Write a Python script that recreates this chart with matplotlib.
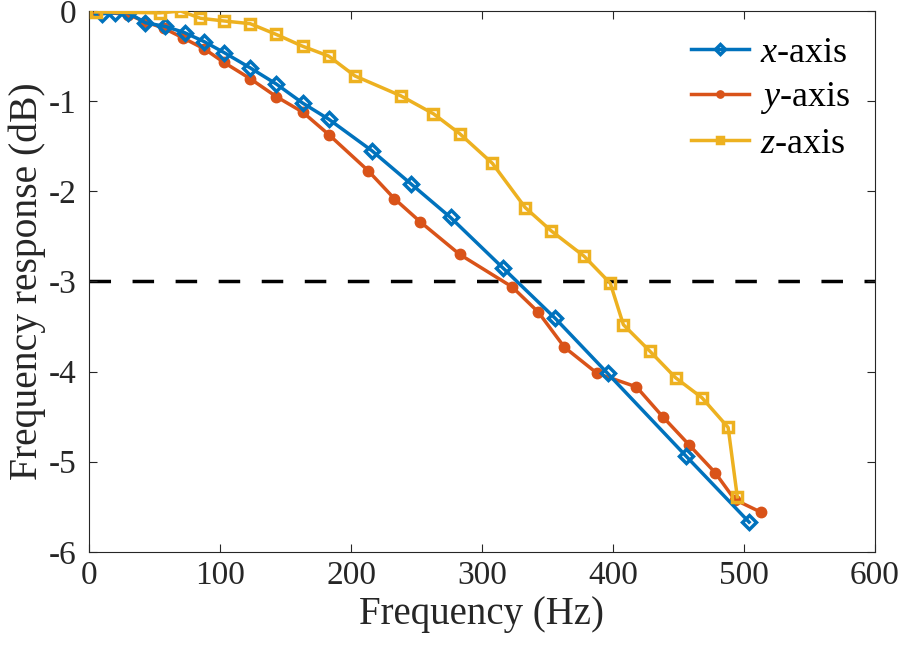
import numpy as np
import matplotlib
matplotlib.use("Agg")
import matplotlib.pyplot as plt

# data
freq_x = [10, 20, 30, 43, 58, 73, 88, 103, 123, 143, 163, 183, 216, 246, 276, 316, 356, 396, 456, 504]
resp_x = [-0.03, -0.02, -0.02, -0.13, -0.17, -0.24, -0.34, -0.46, -0.63, -0.81, -1.02, -1.20,
          -1.55, -1.92, -2.29, -2.85, -3.41, -4.02, -4.94, -5.67]

freq_y = [5, 30, 43, 57, 72, 88, 103, 123, 143, 163, 183, 213, 233, 253, 283, 323, 343, 363, 388,
          418, 438, 458, 478, 493, 513]
resp_y = [0.0, -0.04, -0.12, -0.19, -0.30, -0.42, -0.57, -0.75, -0.95, -1.12, -1.37, -1.77, -2.08,
          -2.34, -2.70, -3.06, -3.34, -3.73, -4.02, -4.17, -4.50, -4.81, -5.12, -5.42, -5.56]

freq_z = [5, 54, 70, 85, 103, 123, 143, 163, 183, 203, 238, 263, 283, 308, 333, 353, 378, 398,
          408, 428, 448, 468, 488, 495]
resp_z = [-0.01, -0.02, 0.0, -0.08, -0.11, -0.14, -0.26, -0.39, -0.50, -0.72, -0.94, -1.14, -1.36,
          -1.69, -2.18, -2.44, -2.72, -3.02, -3.48, -3.77, -4.07, -4.29, -4.62, -5.39]

cutoff = -3
xticks = [0, 100, 200, 300, 400, 500, 600]
yticks = [0, -1, -2, -3, -4, -5, -6]
labels = ['$\\mathit{x}$-axis', '$\\mathit{y}$-axis', '$\\mathit{z}$-axis']

plt.rcParams['font.family'] = ['Liberation Serif', 'DejaVu Serif']
plt.rcParams['mathtext.fontset'] = 'custom'
plt.rcParams['mathtext.rm'] = 'Liberation Serif'
plt.rcParams['mathtext.it'] = 'Liberation Serif:italic'
plt.rcParams['axes.unicode_minus'] = False

fig = plt.figure(figsize=(9, 6.5), dpi=100)
ax = fig.add_axes([0.099, 0.151, 0.873, 0.832])

ax.axhline(cutoff, color='black', lw=2.5, dashes=(6.2, 6.2), zorder=1)

ax.plot(freq_x, resp_x, color='#0072BD', lw=2.5, marker='D', ms=7.5, mfc='none', mew=2.5,
        label=labels[0], zorder=3)
ax.plot(freq_y, resp_y, color='#D95319', lw=2.5, marker='o', ms=7.5, label=labels[1], zorder=2)
ax.plot(freq_z, resp_z, color='#EDB120', lw=2.5, marker='s', ms=7, mfc='none', mew=2.5,
        label=labels[2], zorder=4)

ax.set_xlim(0, 600)
ax.set_ylim(-6, 0)
ax.set_xticks(xticks)
ax.set_yticks(yticks)
ax.tick_params(direction='in', length=6, width=0.8, top=True, right=True,
               labelsize=24, colors='#262626')
ax.tick_params(axis='x', pad=6)
ax.tick_params(axis='y', pad=9)
for s in ax.spines.values():
    s.set_color('#262626')
    s.set_linewidth(0.8)

ax.set_xlabel('Frequency (Hz)', fontsize=28, color='#262626', labelpad=4)
ax.set_ylabel('Frequency response (dB)', fontsize=28.5, color='#262626', labelpad=2)

ax.legend(loc='upper right', frameon=False, fontsize=26, handlelength=1.6,
          handletextpad=0.3, labelspacing=0.3, borderaxespad=0.3, markerscale=0.7)

fig.savefig('out.png', dpi=100)
